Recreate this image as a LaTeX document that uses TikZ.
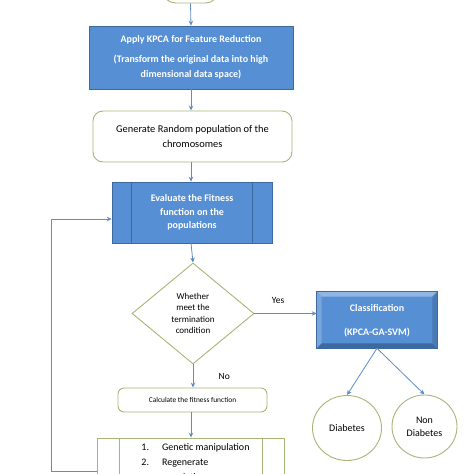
\documentclass[tikz,border=0pt]{standalone}
\usepackage{fontspec}
\setmainfont{Carlito}
\usetikzlibrary{shapes.geometric,arrows.meta}
\definecolor{bfill}{RGB}{86,143,212}
\definecolor{bdraw}{RGB}{60,105,160}
\definecolor{olive}{RGB}{165,182,118}
\definecolor{lnk}{RGB}{95,140,195}
\begin{document}
\begin{tikzpicture}[x=1pt,y=-1pt,
  arr/.style={draw=lnk,line width=0.8pt,-{Stealth[length=5pt,width=4.5pt]}},
  lnkline/.style={draw=lnk,line width=0.8pt},
  bluebox/.style={rectangle,fill=bfill,draw=bdraw,line width=0.6pt,text=white,align=center,inner sep=0pt},
  olivebox/.style={rectangle,draw=olive,line width=0.9pt,fill=white,align=center,inner sep=0pt},
  lbl/.style={font=\fontsize{9.5}{10}\selectfont}]
\useasboundingbox (0,0) rectangle (474,474);
% top terminal (cut off)
\node[olivebox,rounded corners=13pt,minimum width=56pt,minimum height=26pt] (t) at (190.5,-10) {};
% KPCA
\node[bluebox,minimum width=204pt,minimum height=63pt,font=\bfseries\fontsize{10}{15}\selectfont] (k) at (191,57.5)
  {Apply KPCA for Feature Reduction\\[5pt](Transform the original data into high\\dimensional data space)};
% Generate
\node[olivebox,rounded corners=10pt,minimum width=199pt,minimum height=51pt,font=\fontsize{10.4}{15}\selectfont] (g) at (192.5,136.5)
  {Generate Random population of the\\chromosomes};
% Evaluate
\node[bluebox,minimum width=160pt,minimum height=61pt,font=\bfseries\fontsize{10}{13.5}\selectfont] (e) at (192,212.5)
  {Evaluate the Fitness\\function on the\\populations};
\draw[bdraw,line width=0.6pt] ([xshift=20pt]e.north west) -- ([xshift=20pt]e.south west);
\draw[bdraw,line width=0.6pt] ([xshift=-20pt]e.north east) -- ([xshift=-20pt]e.south east);
% Diamond
\node[diamond,draw=olive,line width=0.9pt,fill=white,minimum width=122pt,minimum height=101pt,inner sep=0pt,align=center,font=\fontsize{9}{11.3}\selectfont] (d) at (193,313.5)
  {Whether\\meet the\\termination\\condition};
% Calculate
\node[olivebox,rounded corners=6pt,minimum width=149pt,minimum height=24pt,font=\fontsize{7.4}{8}\selectfont] (f) at (192.5,400)
  {Calculate the fitness function};
% Bottom box
\node[olivebox,minimum width=187pt,minimum height=50pt,align=left,font=\fontsize{10}{15}\selectfont] (b) at (190.5,463)
  {\hspace*{10pt}1.\hspace{13pt}Genetic manipulation\\\hspace*{10pt}2.\hspace{13pt}Regenerate\\\hspace*{10pt}\phantom{2.}\hspace{13pt}population};
\draw[olive,line width=0.9pt] ([xshift=23pt]b.north west) -- ([xshift=23pt]b.south west);
\draw[olive,line width=0.9pt] ([xshift=-22pt]b.north east) -- ([xshift=-22pt]b.south east);
% Classification (bevel)
\node[bluebox,minimum width=120pt,minimum height=56pt] (c) at (377,320) {};
\fill[bfill!65!white] (c.north west) -- (c.north east) -- ([shift={(-5,5)}]c.north east) -- ([shift={(5,5)}]c.north west) -- cycle;
\fill[bfill!80!white] (c.north west) -- ([shift={(5,5)}]c.north west) -- ([shift={(5,-5)}]c.south west) -- (c.south west) -- cycle;
\fill[bdraw] (c.south west) -- ([shift={(5,-5)}]c.south west) -- ([shift={(-5,-5)}]c.south east) -- (c.south east) -- cycle;
\fill[bfill!85!black] (c.north east) -- ([shift={(-5,5)}]c.north east) -- ([shift={(-5,-5)}]c.south east) -- (c.south east) -- cycle;
\draw[bdraw,line width=0.6pt] (c.north west) rectangle (c.south east);
\node[text=white,align=center,font=\bfseries\fontsize{10}{11}\selectfont] (ct) at ([yshift=-1pt]c.center)
  {Classification\\[13pt](KPCA-GA-SVM)};
% Outcomes
\node[ellipse,draw=olive,line width=0.9pt,fill=white,minimum width=69pt,minimum height=65pt,inner sep=0pt,font=\fontsize{10}{11}\selectfont] (dia) at (347,428) {Diabetes};
\node[ellipse,draw=olive,line width=0.9pt,fill=white,minimum width=65pt,minimum height=63pt,inner sep=0pt,align=center,font=\fontsize{10}{13}\selectfont] (non) at (424.5,426.5) {Non\\Diabetes};
% connectors
\draw[arr] (t.south) -- (k.north);
\draw[arr] (k.south) -- (g.north -| k.south);
\draw[arr] (g.south -| k.south) -- (e.north -| k.south);
\draw[arr] (e.south -| k.south) -- (d.north);
\draw[arr] (d.east) -- (c.west |- d.east) node[pos=0.38,above=6pt,lbl] {Yes};
\draw[arr] (d.south) -- (f.north -| d.south) node[pos=0.5,right=22pt,lbl] {No};
\draw[arr] (f.south -| k.south) -- (b.north -| k.south);
\draw[arr] (c.south) -- (dia.north);
\draw[arr] (c.south) -- (non.north);
\coordinate (lb) at (51,471);
\coordinate (lt) at (51,219);
\draw[lnkline] (b.west |- lb) -- (lb) -- (lt);
\draw[arr] (lt) -- (e.west |- lt);
\end{tikzpicture}
\end{document}
